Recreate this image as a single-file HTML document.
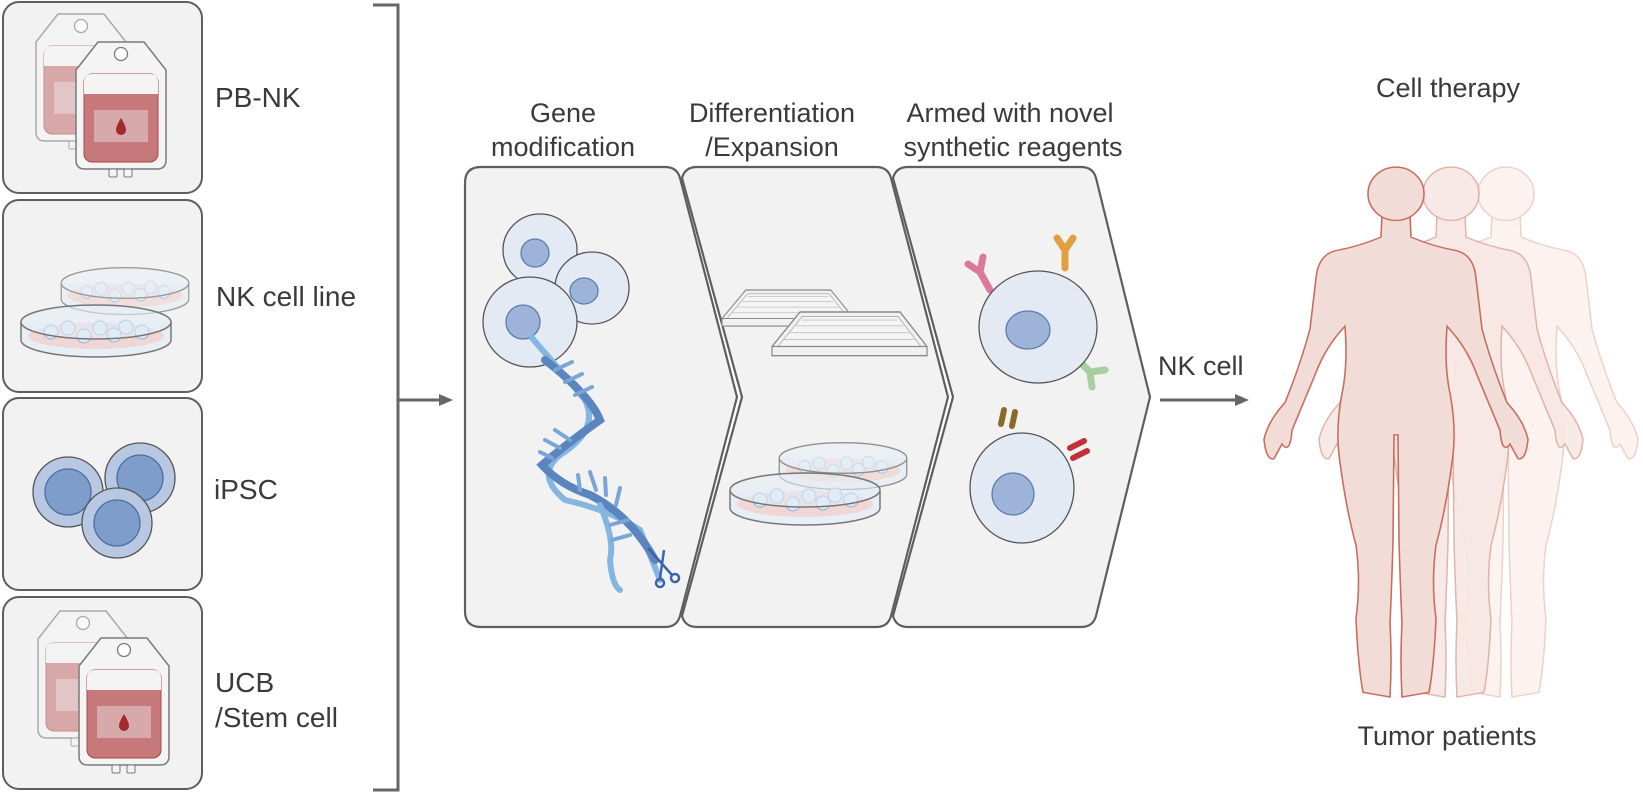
<!DOCTYPE html>
<html><head><meta charset="utf-8"><style>
html,body{margin:0;padding:0;background:#fff;}
svg{display:block;}
text{font-family:"Liberation Sans",Arial,sans-serif;fill:#3a3a3a;}
</style></head><body>
<svg width="1643" height="793" viewBox="0 0 1643 793" xmlns="http://www.w3.org/2000/svg">
<defs>
<g id="bag">
  <path d="M22,0 H68 L90,28 V118 Q90,127 81,127 H9 Q0,127 0,118 V28 Z" fill="#f4f4f4" stroke="#7a7a7a" stroke-width="1.5"/>
  <circle cx="45" cy="12" r="6.5" fill="#fff" stroke="#7a7a7a" stroke-width="1.3"/>
  <rect x="8" y="32" width="74" height="88" rx="8" fill="#c7787a" stroke="#a8474a" stroke-width="1"/>
  <path d="M8,52 V40 Q8,32 16,32 H74 Q82,32 82,40 V52 Z" fill="#f4f4f4"/>
  <rect x="18" y="68" width="54" height="32" fill="#d8a9ab"/>
  <path d="M45,76 Q50,84 50,88 A5,5 0 0 1 40,88 Q40,84 45,76 Z" fill="#a12a2e"/>
  <rect x="33" y="127" width="8" height="8" rx="1.5" fill="#f4f4f4" stroke="#7a7a7a"/>
  <rect x="48" y="127" width="8" height="8" rx="1.5" fill="#f4f4f4" stroke="#7a7a7a"/>
</g>
<g id="dish">
  <path d="M-75,0 V18 A75,17 0 0 0 75,18 V0" fill="#e8eef5" stroke="#777" stroke-width="1.5"/>
  <ellipse cx="0" cy="14" rx="68" ry="13" fill="#f1cfcc" opacity="0.8"/>
  <g fill="#dde8f4" stroke="#8fb0d4" stroke-width="1">
    <circle cx="-45" cy="10" r="7"/><circle cx="-28" cy="6" r="7"/><circle cx="-12" cy="14" r="7"/>
    <circle cx="4" cy="6" r="7"/><circle cx="18" cy="13" r="7"/><circle cx="30" cy="5" r="7"/><circle cx="46" cy="10" r="7"/>
  </g>
  <ellipse cx="0" cy="0" rx="75" ry="17" fill="#e3ecf6" fill-opacity="0.55" stroke="#777" stroke-width="1.5"/>
</g>
<g id="plate">
  <path d="M0,30 L28,0 H128 L155,30 V38 H0 Z" fill="#f0f0f0" stroke="#888" stroke-width="1.2"/>
  <path d="M6,30 L30,4 H126 L149,30 Z" fill="#f4f4f4" stroke="#aaa" stroke-width="0.8"/>
  <path d="M0,30 H155" stroke="#888" stroke-width="1"/>
  <g stroke="#c0c0c0" stroke-width="0.8">
    <path d="M12,24 H143 M18,18 H137 M24,12 H131 M30,7 H125"/>
  </g>
</g>
<g id="human">
  <path d="M-14,50 L-15,75 Q-36,85 -61,90 Q-78,95 -80,120 L-86,175 Q-96,215 -111,255 Q-128,275 -132,295 Q-130,318 -122,316 L-114,300 Q-106,312 -104,285 L-81,225 Q-71,195 -51,172 Q-48,215 -54,245 Q-61,285 -56,320 Q-50,370 -40,410 Q-35,450 -40,490 Q-38,540 -33,570 L-6,575 Q-4,535 -6,495 Q-4,445 -3,405 L-2,290 L2,290 L3,405 Q4,445 6,495 Q4,535 6,575 L33,570 Q38,540 40,490 Q35,450 40,410 Q50,370 56,320 Q61,285 54,245 Q48,215 51,172 Q71,195 81,225 L104,285 Q106,312 114,300 L122,316 Q130,318 132,295 Q128,275 111,255 Q96,215 86,175 L80,120 Q78,95 61,90 Q36,85 15,75 L14,50 Z"/>
  <ellipse cx="0" cy="28" rx="28" ry="29"/>
</g>
</defs>

<g fill="#f2f2f2" stroke="#5e5e5e" stroke-width="2">
  <rect x="3" y="2" width="199" height="191" rx="16"/>
  <rect x="3" y="200" width="199" height="192" rx="16"/>
  <rect x="3" y="398" width="199" height="192" rx="16"/>
  <rect x="3" y="597" width="199" height="192" rx="16"/>
</g>
<g opacity="0.6"><use href="#bag" transform="translate(36,14)"/></g>
<use href="#bag" transform="translate(76,42)"/>
<g opacity="0.6"><use href="#bag" transform="translate(38,611)"/></g>
<use href="#bag" transform="translate(79,638)"/>
<g opacity="0.7"><use href="#dish" transform="translate(125,283) scale(0.85,0.9)"/></g>
<use href="#dish" transform="translate(96,322)"/>
<g stroke="#555" stroke-width="1.3">
  <circle cx="140" cy="478" r="35" fill="#b8c8e2"/><circle cx="140" cy="478" r="23" fill="#7f9dcb" stroke="#4d6ea3"/>
  <circle cx="68" cy="492" r="35" fill="#b8c8e2"/><circle cx="68" cy="492" r="23" fill="#7f9dcb" stroke="#4d6ea3"/>
  <circle cx="117" cy="523" r="35" fill="#b8c8e2"/><circle cx="117" cy="523" r="23" fill="#7f9dcb" stroke="#4d6ea3"/>
</g>
<text x="215" y="107" font-size="28">PB-NK</text>
<text x="216" y="306" font-size="28">NK cell line</text>
<text x="214" y="499" font-size="28">iPSC</text>
<text x="215" y="692" font-size="28">UCB</text>
<text x="215" y="727" font-size="28">/Stem cell</text>

<path d="M373,5 H398 V790 H373" fill="none" stroke="#666" stroke-width="3"/>
<path d="M398,400 H440" stroke="#666" stroke-width="3"/>
<path d="M439,394 L453,400 L439,406 Z" fill="#666"/>

<g fill="#f2f2f2" stroke="#5e5e5e" stroke-width="2.2" stroke-linejoin="round">
  <path d="M465,183 Q465,167 481,167 H665 Q677,167 680,178 L737,397 L680,616 Q677,627 665,627 H481 Q465,627 465,611 Z"/>
  <path d="M682,178 Q685,167 697,167 H876 Q888,167 891,178 L948,397 L891,616 Q888,627 876,627 H697 Q685,627 682,616 L742,397 Z"/>
  <path d="M893,178 Q896,167 908,167 H1081 Q1093,167 1096,178 L1150,397 L1096,616 Q1093,627 1081,627 H908 Q896,627 893,616 L953,397 Z"/>
</g>
<text x="563" y="122" font-size="27" text-anchor="middle">Gene</text>
<text x="563" y="156" font-size="27" text-anchor="middle">modification</text>
<text x="772" y="122" font-size="27" text-anchor="middle">Differentiation</text>
<text x="772" y="156" font-size="27" text-anchor="middle">/Expansion</text>
<text x="1010" y="122" font-size="27" text-anchor="middle">Armed with novel</text>
<text x="1013" y="156" font-size="27" text-anchor="middle">synthetic reagents</text>

<g stroke="#555" stroke-width="1.3">
  <ellipse cx="540" cy="250" rx="37" ry="36" fill="#e4eaf4"/><ellipse cx="535" cy="253" rx="14" ry="14" fill="#9db3d8" stroke="#5b7cae"/>
  <ellipse cx="592" cy="288" rx="37" ry="36" fill="#e4eaf4"/><ellipse cx="584" cy="291" rx="14" ry="13" fill="#9db3d8" stroke="#5b7cae"/>
  <ellipse cx="530" cy="322" rx="47" ry="45" fill="#e4eaf4"/><ellipse cx="523" cy="322" rx="17" ry="17" fill="#9db3d8" stroke="#5b7cae"/>
</g>
<g fill="none" stroke-linecap="round">
  <path d="M532,338 Q560,370 585,400 Q600,430 560,455 Q535,475 565,500 Q610,510 640,530 Q650,555 660,580" stroke="#85b6e0" stroke-width="6"/>
  <path d="M545,360 Q590,395 600,420 Q565,445 542,465 Q560,485 590,495 Q630,515 655,560" stroke="#5a85bf" stroke-width="8"/>
  <path d="M600,505 Q615,540 610,560 Q612,585 620,590" stroke="#85b6e0" stroke-width="6"/>
  <g stroke="#7aa6d6" stroke-width="4">
    <path d="M555,370 L572,362 M565,382 L582,374 M575,395 L592,387 M570,440 L555,430 M560,448 L545,440 M552,458 L540,452 M578,475 L580,490 M590,472 L596,490 M605,478 L606,495 M620,488 L616,505 M610,525 L628,520 M612,540 L630,535"/>
  </g>
</g>
<g stroke="#3e64a8" stroke-width="2.5" fill="none">
  <path d="M648,548 L672,575 M664,550 L660,578"/>
  <circle cx="675" cy="578" r="4"/><circle cx="660" cy="583" r="4"/>
</g>

<use href="#plate" transform="translate(722,290) scale(0.85,0.95)"/>
<use href="#plate" transform="translate(772,312) scale(1.0,1.15)"/>
<g opacity="0.8"><use href="#dish" transform="translate(843,458) scale(0.85,0.9)"/></g>
<use href="#dish" transform="translate(805,490)"/>

<g stroke-linecap="round" fill="none">
  <path d="M990,290 L980,272 M980,272 L968,264 M980,272 L983,257" stroke="#d97a98" stroke-width="7"/>
  <path d="M1065,268 L1065,250 M1065,250 L1057,238 M1065,250 L1073,238" stroke="#e0a040" stroke-width="7"/>
  <path d="M1080,362 L1090,372 M1090,372 L1105,370 M1090,372 L1092,387" stroke="#a8cfa0" stroke-width="7"/>
  <path d="M1001,424 L1004,410 M1012,426 L1015,412" stroke="#8a6a2a" stroke-width="6"/>
  <path d="M1070,448 L1084,441 M1073,458 L1087,451" stroke="#c23038" stroke-width="6"/>
</g>
<g stroke="#555" stroke-width="1.3">
  <ellipse cx="1038" cy="327" rx="59" ry="56" fill="#e4eaf4"/><ellipse cx="1028" cy="330" rx="22" ry="19" fill="#9db3d8" stroke="#5b7cae"/>
  <ellipse cx="1022" cy="488" rx="52" ry="55" fill="#e4eaf4"/><ellipse cx="1013" cy="494" rx="21" ry="21" fill="#9db3d8" stroke="#5b7cae"/>
</g>

<text x="1158" y="375" font-size="27">NK cell</text>
<path d="M1160,400 H1236" stroke="#666" stroke-width="3"/>
<path d="M1235,394 L1249,400 L1235,406 Z" fill="#666"/>

<g transform="translate(1506,168) scale(1,0.92)" fill="#fcf3f1" stroke="#efd0c9" stroke-width="1.5"><use href="#human"/></g>
<g transform="translate(1451,168) scale(1,0.92)" fill="#f7e7e4" stroke="#dfab9f" stroke-width="1.5" opacity="0.9"><use href="#human"/></g>
<g transform="translate(1396,168) scale(1,0.92)" fill="#f2dcd8" stroke="#c86e5e" stroke-width="1.6"><use href="#human"/></g>
<text x="1448" y="97" font-size="27" text-anchor="middle">Cell therapy</text>
<text x="1447" y="745" font-size="27" text-anchor="middle">Tumor patients</text>
</svg>
</body></html>
